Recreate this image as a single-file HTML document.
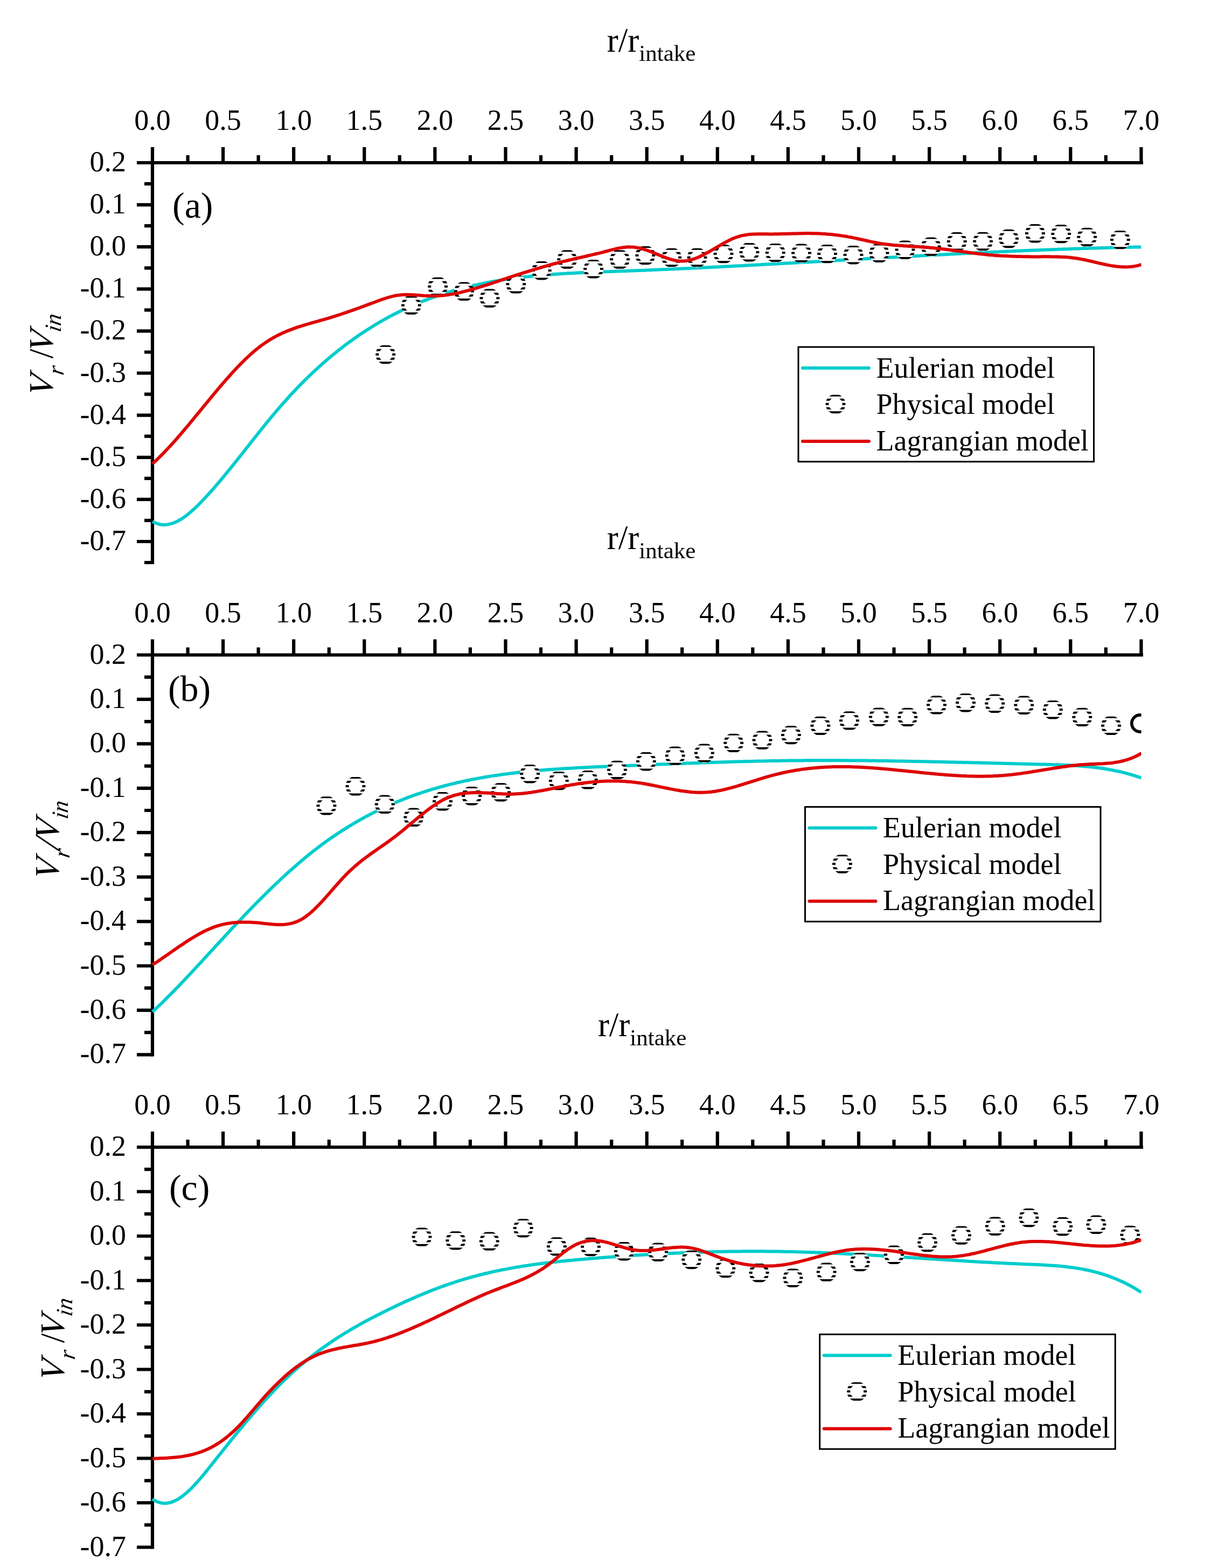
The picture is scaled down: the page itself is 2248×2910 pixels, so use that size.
<!DOCTYPE html><html><head><meta charset="utf-8"><style>html,body{margin:0;padding:0;background:#fff;}svg{display:block;}</style></head><body>
<svg width="2248" height="2910" viewBox="0 0 2248 2910" font-family="'Liberation Serif','Times New Roman',serif">
<rect width="2248" height="2910" fill="#fff"/>
<defs><clipPath id="st" clipPathUnits="userSpaceOnUse"><rect x="-22" y="-17.2" width="44" height="3.0"/><rect x="-22" y="-10.2" width="44" height="4.0"/><rect x="-22" y="-2.2" width="44" height="4.0"/><rect x="-22" y="5.8" width="44" height="4.0"/><rect x="-22" y="13.2" width="44" height="4.0"/></clipPath><g id="mk"><circle r="18.5" fill="#fff"/><circle r="15.5" fill="none" stroke="#000" stroke-width="6" clip-path="url(#st)"/></g><clipPath id="plotclip"><rect x="0" y="0" width="2118.5" height="2910"/></clipPath></defs>
<g><path d="M280,302.0 H2122 M283,299.0 V1047.0" stroke="#000" stroke-width="6.2" fill="none"/>
<path d="M283.0,302.0 V273.0 M414.1,302.0 V273.0 M545.2,302.0 V273.0 M676.3,302.0 V273.0 M807.4,302.0 V273.0 M938.5,302.0 V273.0 M1069.6,302.0 V273.0 M1200.7,302.0 V273.0 M1331.8,302.0 V273.0 M1462.9,302.0 V273.0 M1594.0,302.0 V273.0 M1725.1,302.0 V273.0 M1856.2,302.0 V273.0 M1987.3,302.0 V273.0 M2118.4,302.0 V273.0 M348.6,302.0 V288.0 M479.6,302.0 V288.0 M610.8,302.0 V288.0 M741.8,302.0 V288.0 M872.9,302.0 V288.0 M1004.0,302.0 V288.0 M1135.2,302.0 V288.0 M1266.2,302.0 V288.0 M1397.3,302.0 V288.0 M1528.5,302.0 V288.0 M1659.5,302.0 V288.0 M1790.6,302.0 V288.0 M1921.8,302.0 V288.0 M2052.8,302.0 V288.0 M283,302.0 H254 M283,341.1 H268 M283,380.1 H254 M283,419.2 H268 M283,458.2 H254 M283,497.3 H268 M283,536.3 H254 M283,575.4 H268 M283,614.4 H254 M283,653.5 H268 M283,692.5 H254 M283,731.6 H268 M283,770.7 H254 M283,809.7 H268 M283,848.8 H254 M283,887.8 H268 M283,926.9 H254 M283,965.9 H268 M283,1005.0 H254 M283,1044.0 H268" stroke="#000" stroke-width="6.2" fill="none"/>
<g font-size="54"><text x="283.0" y="241.0" text-anchor="middle">0.0</text><text x="414.1" y="241.0" text-anchor="middle">0.5</text><text x="545.2" y="241.0" text-anchor="middle">1.0</text><text x="676.3" y="241.0" text-anchor="middle">1.5</text><text x="807.4" y="241.0" text-anchor="middle">2.0</text><text x="938.5" y="241.0" text-anchor="middle">2.5</text><text x="1069.6" y="241.0" text-anchor="middle">3.0</text><text x="1200.7" y="241.0" text-anchor="middle">3.5</text><text x="1331.8" y="241.0" text-anchor="middle">4.0</text><text x="1462.9" y="241.0" text-anchor="middle">4.5</text><text x="1594.0" y="241.0" text-anchor="middle">5.0</text><text x="1725.1" y="241.0" text-anchor="middle">5.5</text><text x="1856.2" y="241.0" text-anchor="middle">6.0</text><text x="1987.3" y="241.0" text-anchor="middle">6.5</text><text x="2118.4" y="241.0" text-anchor="middle">7.0</text><text x="234" y="318.0" text-anchor="end">0.2</text><text x="234" y="396.1" text-anchor="end">0.1</text><text x="234" y="474.2" text-anchor="end">0.0</text><text x="234" y="552.3" text-anchor="end">-0.1</text><text x="234" y="630.4" text-anchor="end">-0.2</text><text x="234" y="708.5" text-anchor="end">-0.3</text><text x="234" y="786.7" text-anchor="end">-0.4</text><text x="234" y="864.8" text-anchor="end">-0.5</text><text x="234" y="942.9" text-anchor="end">-0.6</text><text x="234" y="1021.0" text-anchor="end">-0.7</text></g>
<text x="1126.8" y="96.3" font-size="63">r/r<tspan font-size="43" dy="16.8">intake</tspan></text>
<g transform="translate(97.9,728.8) rotate(-90)"><text transform="skewX(-9)" font-style="italic" font-size="64"><tspan x="-8.50" y="0">V</tspan><tspan x="34.60" y="20.1" font-size="43">r</tspan><tspan x="73.20" y="0">V</tspan><tspan x="113.65" y="15.4" font-size="43">in</tspan></text>
<text font-size="64" x="63.60" y="0">/</text></g>
<g clip-path="url(#plotclip)">
<path d="M283.0,967.8 L287.0,969.9 L291.0,971.5 L295.0,972.7 L299.0,973.5 L303.0,973.9 L307.0,973.8 L311.0,973.4 L315.0,972.7 L319.0,971.6 L323.0,970.2 L327.0,968.5 L331.0,966.5 L335.0,964.2 L339.0,961.7 L343.0,958.9 L347.0,955.9 L351.0,952.7 L355.0,949.3 L359.0,945.7 L363.0,942.0 L367.0,938.1 L371.0,934.1 L375.0,930.0 L379.0,925.8 L383.0,921.5 L387.0,917.1 L391.0,912.7 L395.0,908.2 L399.0,903.6 L403.0,898.9 L407.0,894.2 L411.0,889.5 L415.0,884.7 L419.0,879.9 L423.0,875.0 L427.0,870.1 L431.0,865.1 L435.0,860.1 L439.0,855.1 L443.0,850.1 L447.0,845.0 L451.0,840.0 L455.0,834.9 L459.0,829.9 L463.0,824.8 L467.0,819.7 L471.0,814.7 L475.0,809.6 L479.0,804.6 L483.0,799.6 L487.0,794.6 L491.0,789.6 L495.0,784.7 L499.0,779.8 L503.0,774.9 L507.0,770.1 L511.0,765.4 L515.0,760.7 L519.0,756.0 L523.0,751.4 L527.0,746.9 L531.0,742.4 L535.0,738.0 L539.0,733.6 L543.0,729.3 L547.0,725.1 L551.0,720.9 L555.0,716.7 L559.0,712.7 L563.0,708.6 L567.0,704.6 L571.0,700.7 L575.0,696.9 L579.0,693.0 L583.0,689.3 L587.0,685.6 L591.0,681.9 L595.0,678.3 L599.0,674.7 L603.0,671.2 L607.0,667.8 L611.0,664.4 L615.0,661.0 L619.0,657.7 L623.0,654.5 L627.0,651.2 L631.0,648.1 L635.0,645.0 L639.0,641.9 L643.0,638.9 L647.0,635.9 L651.0,633.0 L655.0,630.1 L659.0,627.3 L663.0,624.5 L667.0,621.7 L671.0,619.0 L675.0,616.4 L679.0,613.8 L683.0,611.2 L687.0,608.7 L691.0,606.2 L695.0,603.7 L699.0,601.3 L703.0,599.0 L707.0,596.6 L711.0,594.3 L715.0,592.1 L719.0,589.9 L723.0,587.7 L727.0,585.6 L731.0,583.5 L735.0,581.5 L739.0,579.5 L743.0,577.5 L747.0,575.6 L751.0,573.7 L755.0,571.8 L759.0,570.0 L763.0,568.2 L767.0,566.4 L771.0,564.7 L775.0,563.0 L779.0,561.4 L783.0,559.7 L787.0,558.1 L791.0,556.6 L795.0,555.1 L799.0,553.6 L803.0,552.1 L807.0,550.7 L811.0,549.3 L815.0,547.9 L819.0,546.6 L823.0,545.3 L827.0,544.0 L831.0,542.7 L835.0,541.5 L839.0,540.3 L843.0,539.2 L847.0,538.0 L851.0,536.9 L855.0,535.8 L859.0,534.8 L863.0,533.7 L867.0,532.7 L871.0,531.7 L875.0,530.8 L879.0,529.8 L883.0,528.9 L887.0,528.1 L891.0,527.2 L895.0,526.4 L899.0,525.5 L903.0,524.7 L907.0,524.0 L911.0,523.2 L915.0,522.5 L919.0,521.8 L923.0,521.1 L927.0,520.4 L931.0,519.8 L935.0,519.1 L939.0,518.5 L943.0,517.9 L947.0,517.4 L951.0,516.8 L955.0,516.3 L959.0,515.7 L963.0,515.2 L967.0,514.7 L971.0,514.3 L975.0,513.8 L979.0,513.4 L983.0,512.9 L987.0,512.5 L991.0,512.1 L995.0,511.7 L999.0,511.4 L1003.0,511.0 L1007.0,510.7 L1011.0,510.3 L1015.0,510.0 L1019.0,509.7 L1023.0,509.4 L1027.0,509.1 L1031.0,508.8 L1035.0,508.5 L1039.0,508.3 L1043.0,508.0 L1047.0,507.8 L1051.0,507.6 L1055.0,507.3 L1059.0,507.1 L1063.0,506.9 L1067.0,506.7 L1071.0,506.5 L1075.0,506.3 L1079.0,506.1 L1083.0,505.9 L1087.0,505.8 L1091.0,505.6 L1095.0,505.4 L1099.0,505.3 L1103.0,505.1 L1107.0,504.9 L1111.0,504.8 L1115.0,504.6 L1119.0,504.5 L1123.0,504.3 L1127.0,504.2 L1131.0,504.1 L1135.0,503.9 L1139.0,503.8 L1143.0,503.6 L1147.0,503.5 L1151.0,503.3 L1155.0,503.2 L1159.0,503.0 L1163.0,502.9 L1167.0,502.7 L1171.0,502.6 L1175.0,502.4 L1179.0,502.3 L1183.0,502.1 L1187.0,502.0 L1191.0,501.8 L1195.0,501.7 L1199.0,501.5 L1203.0,501.3 L1207.0,501.2 L1211.0,501.0 L1215.0,500.8 L1219.0,500.7 L1223.0,500.5 L1227.0,500.3 L1231.0,500.1 L1235.0,500.0 L1239.0,499.8 L1243.0,499.6 L1247.0,499.4 L1251.0,499.3 L1255.0,499.1 L1259.0,498.9 L1263.0,498.7 L1267.0,498.5 L1271.0,498.3 L1275.0,498.2 L1279.0,498.0 L1283.0,497.8 L1287.0,497.6 L1291.0,497.4 L1295.0,497.2 L1299.0,497.0 L1303.0,496.8 L1307.0,496.6 L1311.0,496.4 L1315.0,496.2 L1319.0,496.0 L1323.0,495.8 L1327.0,495.6 L1331.0,495.4 L1335.0,495.2 L1339.0,495.0 L1343.0,494.8 L1347.0,494.6 L1351.0,494.4 L1355.0,494.2 L1359.0,494.0 L1363.0,493.8 L1367.0,493.6 L1371.0,493.4 L1375.0,493.2 L1379.0,493.0 L1383.0,492.7 L1387.0,492.5 L1391.0,492.3 L1395.0,492.1 L1399.0,491.9 L1403.0,491.7 L1407.0,491.5 L1411.0,491.3 L1415.0,491.0 L1419.0,490.8 L1423.0,490.6 L1427.0,490.4 L1431.0,490.2 L1435.0,489.9 L1439.0,489.7 L1443.0,489.5 L1447.0,489.3 L1451.0,489.1 L1455.0,488.8 L1459.0,488.6 L1463.0,488.4 L1467.0,488.2 L1471.0,488.0 L1475.0,487.7 L1479.0,487.5 L1483.0,487.3 L1487.0,487.1 L1491.0,486.8 L1495.0,486.6 L1499.0,486.4 L1503.0,486.2 L1507.0,485.9 L1511.0,485.7 L1515.0,485.5 L1519.0,485.3 L1523.0,485.0 L1527.0,484.8 L1531.0,484.6 L1535.0,484.3 L1539.0,484.1 L1543.0,483.9 L1547.0,483.7 L1551.0,483.4 L1555.0,483.2 L1559.0,483.0 L1563.0,482.8 L1567.0,482.5 L1571.0,482.3 L1575.0,482.1 L1579.0,481.9 L1583.0,481.6 L1587.0,481.4 L1591.0,481.2 L1595.0,480.9 L1599.0,480.7 L1603.0,480.5 L1607.0,480.3 L1611.0,480.0 L1615.0,479.8 L1619.0,479.6 L1623.0,479.4 L1627.0,479.1 L1631.0,478.9 L1635.0,478.7 L1639.0,478.5 L1643.0,478.2 L1647.0,478.0 L1651.0,477.8 L1655.0,477.6 L1659.0,477.4 L1663.0,477.1 L1667.0,476.9 L1671.0,476.7 L1675.0,476.5 L1679.0,476.3 L1683.0,476.0 L1687.0,475.8 L1691.0,475.6 L1695.0,475.4 L1699.0,475.2 L1703.0,474.9 L1707.0,474.7 L1711.0,474.5 L1715.0,474.3 L1719.0,474.1 L1723.0,473.9 L1727.0,473.7 L1731.0,473.4 L1735.0,473.2 L1739.0,473.0 L1743.0,472.8 L1747.0,472.6 L1751.0,472.4 L1755.0,472.2 L1759.0,472.0 L1763.0,471.8 L1767.0,471.6 L1771.0,471.4 L1775.0,471.1 L1779.0,470.9 L1783.0,470.7 L1787.0,470.5 L1791.0,470.3 L1795.0,470.1 L1799.0,469.9 L1803.0,469.7 L1807.0,469.5 L1811.0,469.3 L1815.0,469.2 L1819.0,469.0 L1823.0,468.8 L1827.0,468.6 L1831.0,468.4 L1835.0,468.2 L1839.0,468.0 L1843.0,467.8 L1847.0,467.6 L1851.0,467.4 L1855.0,467.3 L1859.0,467.1 L1863.0,466.9 L1867.0,466.7 L1871.0,466.5 L1875.0,466.4 L1879.0,466.2 L1883.0,466.0 L1887.0,465.8 L1891.0,465.7 L1895.0,465.5 L1899.0,465.3 L1903.0,465.1 L1907.0,465.0 L1911.0,464.8 L1915.0,464.6 L1919.0,464.5 L1923.0,464.3 L1927.0,464.2 L1931.0,464.0 L1935.0,463.8 L1939.0,463.7 L1943.0,463.5 L1947.0,463.4 L1951.0,463.2 L1955.0,463.1 L1959.0,462.9 L1963.0,462.8 L1967.0,462.6 L1971.0,462.5 L1975.0,462.3 L1979.0,462.2 L1983.0,462.1 L1987.0,461.9 L1991.0,461.8 L1995.0,461.6 L1999.0,461.5 L2003.0,461.4 L2007.0,461.3 L2011.0,461.1 L2015.0,461.0 L2019.0,460.9 L2023.0,460.8 L2027.0,460.6 L2031.0,460.5 L2035.0,460.4 L2039.0,460.3 L2043.0,460.2 L2047.0,460.1 L2051.0,460.0 L2055.0,459.8 L2059.0,459.7 L2063.0,459.6 L2067.0,459.5 L2071.0,459.4 L2075.0,459.3 L2079.0,459.2 L2083.0,459.2 L2087.0,459.1 L2091.0,459.0 L2095.0,458.9 L2099.0,458.8 L2103.0,458.7 L2107.0,458.6 L2111.0,458.6 L2115.0,458.5 L2118.8,458.4" stroke="#00cccc" stroke-width="6" fill="none" stroke-linejoin="round"/>
<use href="#mk" x="715.7" y="658.0"/>
<use href="#mk" x="763.4" y="566.6"/>
<use href="#mk" x="812.6" y="531.9"/>
<use href="#mk" x="861.5" y="540.8"/>
<use href="#mk" x="908.9" y="553.5"/>
<use href="#mk" x="957.8" y="527.4"/>
<use href="#mk" x="1005.3" y="502.3"/>
<use href="#mk" x="1052.7" y="481.5"/>
<use href="#mk" x="1101.6" y="499.3"/>
<use href="#mk" x="1150.5" y="481.5"/>
<use href="#mk" x="1197.9" y="474.1"/>
<use href="#mk" x="1246.7" y="478.0"/>
<use href="#mk" x="1294.1" y="478.0"/>
<use href="#mk" x="1343.0" y="471.1"/>
<use href="#mk" x="1391.0" y="468.2"/>
<use href="#mk" x="1439.3" y="469.1"/>
<use href="#mk" x="1487.6" y="469.7"/>
<use href="#mk" x="1535.6" y="471.1"/>
<use href="#mk" x="1584.0" y="473.2"/>
<use href="#mk" x="1632.0" y="469.7"/>
<use href="#mk" x="1680.0" y="463.7"/>
<use href="#mk" x="1728.2" y="457.8"/>
<use href="#mk" x="1776.2" y="448.3"/>
<use href="#mk" x="1824.5" y="448.0"/>
<use href="#mk" x="1872.5" y="443.0"/>
<use href="#mk" x="1921.4" y="433.2"/>
<use href="#mk" x="1969.7" y="434.1"/>
<use href="#mk" x="2017.7" y="440.0"/>
<use href="#mk" x="2079.4" y="445.1"/>
<path d="M283.0,860.7 L287.0,857.1 L291.0,853.3 L295.0,849.4 L299.0,845.5 L303.0,841.4 L307.0,837.3 L311.0,833.0 L315.0,828.7 L319.0,824.4 L323.0,819.9 L327.0,815.4 L331.0,810.8 L335.0,806.2 L339.0,801.5 L343.0,796.8 L347.0,792.1 L351.0,787.3 L355.0,782.4 L359.0,777.6 L363.0,772.7 L367.0,767.9 L371.0,763.0 L375.0,758.1 L379.0,753.2 L383.0,748.3 L387.0,743.5 L391.0,738.6 L395.0,733.8 L399.0,729.0 L403.0,724.2 L407.0,719.5 L411.0,714.8 L415.0,710.1 L419.0,705.5 L423.0,701.0 L427.0,696.5 L431.0,692.1 L435.0,687.7 L439.0,683.4 L443.0,679.2 L447.0,675.1 L451.0,671.1 L455.0,667.2 L459.0,663.4 L463.0,659.7 L467.0,656.1 L471.0,652.6 L475.0,649.2 L479.0,646.0 L483.0,642.9 L487.0,639.9 L491.0,637.1 L495.0,634.4 L499.0,631.8 L503.0,629.4 L507.0,627.0 L511.0,624.8 L515.0,622.7 L519.0,620.7 L523.0,618.8 L527.0,617.0 L531.0,615.3 L535.0,613.6 L539.0,612.1 L543.0,610.6 L547.0,609.1 L551.0,607.7 L555.0,606.4 L559.0,605.1 L563.0,603.9 L567.0,602.7 L571.0,601.5 L575.0,600.3 L579.0,599.2 L583.0,598.1 L587.0,597.0 L591.0,595.8 L595.0,594.7 L599.0,593.6 L603.0,592.4 L607.0,591.3 L611.0,590.1 L615.0,588.9 L619.0,587.6 L623.0,586.4 L627.0,585.1 L631.0,583.8 L635.0,582.5 L639.0,581.1 L643.0,579.8 L647.0,578.4 L651.0,577.0 L655.0,575.6 L659.0,574.2 L663.0,572.7 L667.0,571.3 L671.0,569.8 L675.0,568.4 L679.0,566.9 L683.0,565.4 L687.0,563.9 L691.0,562.5 L695.0,561.0 L699.0,559.5 L703.0,558.0 L707.0,556.5 L711.0,555.1 L715.0,553.8 L719.0,552.5 L723.0,551.3 L727.0,550.3 L731.0,549.3 L735.0,548.5 L739.0,547.9 L743.0,547.4 L747.0,547.0 L751.0,546.9 L755.0,546.8 L759.0,546.9 L763.0,547.0 L767.0,547.2 L771.0,547.5 L775.0,547.8 L779.0,548.1 L783.0,548.4 L787.0,548.7 L791.0,548.9 L795.0,549.1 L799.0,549.3 L803.0,549.3 L807.0,549.2 L811.0,549.1 L815.0,548.9 L819.0,548.6 L823.0,548.2 L827.0,547.7 L831.0,547.2 L835.0,546.6 L839.0,545.9 L843.0,545.2 L847.0,544.4 L851.0,543.6 L855.0,542.7 L859.0,541.7 L863.0,540.7 L867.0,539.7 L871.0,538.6 L875.0,537.5 L879.0,536.3 L883.0,535.1 L887.0,533.9 L891.0,532.7 L895.0,531.4 L899.0,530.2 L903.0,528.9 L907.0,527.6 L911.0,526.3 L915.0,524.9 L919.0,523.6 L923.0,522.3 L927.0,521.0 L931.0,519.6 L935.0,518.3 L939.0,517.0 L943.0,515.7 L947.0,514.4 L951.0,513.0 L955.0,511.7 L959.0,510.4 L963.0,509.1 L967.0,507.9 L971.0,506.6 L975.0,505.3 L979.0,504.1 L983.0,502.8 L987.0,501.6 L991.0,500.4 L995.0,499.1 L999.0,498.0 L1003.0,496.8 L1007.0,495.6 L1011.0,494.5 L1015.0,493.3 L1019.0,492.2 L1023.0,491.1 L1027.0,490.0 L1031.0,489.0 L1035.0,487.9 L1039.0,486.9 L1043.0,485.9 L1047.0,484.9 L1051.0,484.0 L1055.0,483.0 L1059.0,482.1 L1063.0,481.2 L1067.0,480.2 L1071.0,479.3 L1075.0,478.4 L1079.0,477.5 L1083.0,476.6 L1087.0,475.7 L1091.0,474.8 L1095.0,473.9 L1099.0,472.9 L1103.0,472.0 L1107.0,471.0 L1111.0,470.1 L1115.0,469.1 L1119.0,468.1 L1123.0,467.0 L1127.0,466.0 L1131.0,464.9 L1135.0,463.8 L1139.0,462.8 L1143.0,461.8 L1147.0,460.9 L1151.0,460.1 L1155.0,459.4 L1159.0,458.9 L1163.0,458.5 L1167.0,458.3 L1171.0,458.4 L1175.0,458.6 L1179.0,459.1 L1183.0,459.7 L1187.0,460.5 L1191.0,461.5 L1195.0,462.6 L1199.0,463.9 L1203.0,465.2 L1207.0,466.7 L1211.0,468.2 L1215.0,469.8 L1219.0,471.5 L1223.0,473.1 L1227.0,474.8 L1231.0,476.4 L1235.0,477.9 L1239.0,479.4 L1243.0,480.7 L1247.0,481.9 L1251.0,482.9 L1255.0,483.7 L1259.0,484.3 L1263.0,484.6 L1267.0,484.6 L1271.0,484.4 L1275.0,483.9 L1279.0,483.1 L1283.0,482.1 L1287.0,480.9 L1291.0,479.5 L1295.0,478.0 L1299.0,476.2 L1303.0,474.3 L1307.0,472.3 L1311.0,470.2 L1315.0,468.0 L1319.0,465.7 L1323.0,463.3 L1327.0,460.9 L1331.0,458.6 L1335.0,456.2 L1339.0,453.9 L1343.0,451.6 L1347.0,449.4 L1351.0,447.3 L1355.0,445.3 L1359.0,443.4 L1363.0,441.8 L1367.0,440.3 L1371.0,439.0 L1375.0,437.9 L1379.0,436.9 L1383.0,436.2 L1387.0,435.6 L1391.0,435.1 L1395.0,434.8 L1399.0,434.5 L1403.0,434.4 L1407.0,434.3 L1411.0,434.3 L1415.0,434.3 L1419.0,434.3 L1423.0,434.3 L1427.0,434.4 L1431.0,434.4 L1435.0,434.4 L1439.0,434.3 L1443.0,434.3 L1447.0,434.2 L1451.0,434.1 L1455.0,434.0 L1459.0,433.9 L1463.0,433.8 L1467.0,433.7 L1471.0,433.6 L1475.0,433.5 L1479.0,433.4 L1483.0,433.3 L1487.0,433.2 L1491.0,433.2 L1495.0,433.1 L1499.0,433.1 L1503.0,433.1 L1507.0,433.2 L1511.0,433.2 L1515.0,433.3 L1519.0,433.5 L1523.0,433.6 L1527.0,433.9 L1531.0,434.1 L1535.0,434.4 L1539.0,434.7 L1543.0,435.1 L1547.0,435.5 L1551.0,436.0 L1555.0,436.4 L1559.0,437.0 L1563.0,437.6 L1567.0,438.2 L1571.0,438.8 L1575.0,439.6 L1579.0,440.3 L1583.0,441.1 L1587.0,441.9 L1591.0,442.8 L1595.0,443.7 L1599.0,444.5 L1603.0,445.4 L1607.0,446.3 L1611.0,447.2 L1615.0,448.1 L1619.0,448.9 L1623.0,449.7 L1627.0,450.5 L1631.0,451.2 L1635.0,451.9 L1639.0,452.5 L1643.0,453.1 L1647.0,453.6 L1651.0,454.0 L1655.0,454.5 L1659.0,454.9 L1663.0,455.2 L1667.0,455.5 L1671.0,455.8 L1675.0,456.1 L1679.0,456.4 L1683.0,456.6 L1687.0,456.9 L1691.0,457.1 L1695.0,457.4 L1699.0,457.6 L1703.0,457.8 L1707.0,458.1 L1711.0,458.4 L1715.0,458.7 L1719.0,459.0 L1723.0,459.3 L1727.0,459.7 L1731.0,460.1 L1735.0,460.5 L1739.0,460.9 L1743.0,461.4 L1747.0,461.8 L1751.0,462.3 L1755.0,462.8 L1759.0,463.3 L1763.0,463.8 L1767.0,464.4 L1771.0,464.9 L1775.0,465.4 L1779.0,466.0 L1783.0,466.5 L1787.0,467.1 L1791.0,467.6 L1795.0,468.1 L1799.0,468.7 L1803.0,469.2 L1807.0,469.7 L1811.0,470.2 L1815.0,470.7 L1819.0,471.2 L1823.0,471.6 L1827.0,472.1 L1831.0,472.5 L1835.0,472.9 L1839.0,473.2 L1843.0,473.6 L1847.0,473.9 L1851.0,474.2 L1855.0,474.5 L1859.0,474.7 L1863.0,474.9 L1867.0,475.1 L1871.0,475.3 L1875.0,475.5 L1879.0,475.7 L1883.0,475.8 L1887.0,475.9 L1891.0,476.0 L1895.0,476.1 L1899.0,476.2 L1903.0,476.2 L1907.0,476.3 L1911.0,476.3 L1915.0,476.4 L1919.0,476.4 L1923.0,476.4 L1927.0,476.4 L1931.0,476.4 L1935.0,476.3 L1939.0,476.3 L1943.0,476.3 L1947.0,476.3 L1951.0,476.4 L1955.0,476.4 L1959.0,476.5 L1963.0,476.6 L1967.0,476.7 L1971.0,476.9 L1975.0,477.1 L1979.0,477.3 L1983.0,477.6 L1987.0,478.0 L1991.0,478.4 L1995.0,478.9 L1999.0,479.5 L2003.0,480.2 L2007.0,480.9 L2011.0,481.7 L2015.0,482.5 L2019.0,483.4 L2023.0,484.3 L2027.0,485.2 L2031.0,486.2 L2035.0,487.1 L2039.0,488.1 L2043.0,489.0 L2047.0,489.9 L2051.0,490.8 L2055.0,491.6 L2059.0,492.4 L2063.0,493.1 L2067.0,493.7 L2071.0,494.3 L2075.0,494.7 L2079.0,495.1 L2083.0,495.3 L2087.0,495.5 L2091.0,495.5 L2095.0,495.3 L2099.0,495.0 L2103.0,494.6 L2107.0,493.9 L2111.0,493.1 L2115.0,492.1 L2118.8,491.0" stroke="#de0606" stroke-width="6" fill="none" stroke-linejoin="round"/>
</g>
<text x="320.0" y="403.7" font-size="68">(a)</text>
<rect x="1482.0" y="644.0" width="548.5" height="212.8" fill="#fff" stroke="#000" stroke-width="3"/>
<path d="M1490.0,683.0 H1613.0" stroke="#00cccc" stroke-width="6" stroke-linecap="round"/>
<path d="M1490.0,819.0 H1613.0" stroke="#de0606" stroke-width="6" stroke-linecap="round"/>
<use href="#mk" x="1551.0" y="750.0"/>
<g font-size="54"><text x="1626.5" y="700.8">Eulerian model</text><text x="1626.5" y="768.1">Physical model</text><text x="1626.5" y="835.5">Lagrangian model</text></g></g>
<g><path d="M280,1215.5 H2122 M283,1212.5 V1960.4" stroke="#000" stroke-width="6.2" fill="none"/>
<path d="M283.0,1215.5 V1186.5 M414.1,1215.5 V1186.5 M545.2,1215.5 V1186.5 M676.3,1215.5 V1186.5 M807.4,1215.5 V1186.5 M938.5,1215.5 V1186.5 M1069.6,1215.5 V1186.5 M1200.7,1215.5 V1186.5 M1331.8,1215.5 V1186.5 M1462.9,1215.5 V1186.5 M1594.0,1215.5 V1186.5 M1725.1,1215.5 V1186.5 M1856.2,1215.5 V1186.5 M1987.3,1215.5 V1186.5 M2118.4,1215.5 V1186.5 M348.6,1215.5 V1201.5 M479.6,1215.5 V1201.5 M610.8,1215.5 V1201.5 M741.8,1215.5 V1201.5 M872.9,1215.5 V1201.5 M1004.0,1215.5 V1201.5 M1135.2,1215.5 V1201.5 M1266.2,1215.5 V1201.5 M1397.3,1215.5 V1201.5 M1528.5,1215.5 V1201.5 M1659.5,1215.5 V1201.5 M1790.6,1215.5 V1201.5 M1921.8,1215.5 V1201.5 M2052.8,1215.5 V1201.5 M283,1215.5 H254 M283,1256.7 H268 M283,1297.9 H254 M283,1339.1 H268 M283,1380.4 H254 M283,1421.6 H268 M283,1462.8 H254 M283,1504.0 H268 M283,1545.2 H254 M283,1586.4 H268 M283,1627.7 H254 M283,1668.9 H268 M283,1710.1 H254 M283,1751.3 H268 M283,1792.5 H254 M283,1833.7 H268 M283,1874.9 H254 M283,1916.2 H268 M283,1957.4 H254" stroke="#000" stroke-width="6.2" fill="none"/>
<g font-size="54"><text x="283.0" y="1154.5" text-anchor="middle">0.0</text><text x="414.1" y="1154.5" text-anchor="middle">0.5</text><text x="545.2" y="1154.5" text-anchor="middle">1.0</text><text x="676.3" y="1154.5" text-anchor="middle">1.5</text><text x="807.4" y="1154.5" text-anchor="middle">2.0</text><text x="938.5" y="1154.5" text-anchor="middle">2.5</text><text x="1069.6" y="1154.5" text-anchor="middle">3.0</text><text x="1200.7" y="1154.5" text-anchor="middle">3.5</text><text x="1331.8" y="1154.5" text-anchor="middle">4.0</text><text x="1462.9" y="1154.5" text-anchor="middle">4.5</text><text x="1594.0" y="1154.5" text-anchor="middle">5.0</text><text x="1725.1" y="1154.5" text-anchor="middle">5.5</text><text x="1856.2" y="1154.5" text-anchor="middle">6.0</text><text x="1987.3" y="1154.5" text-anchor="middle">6.5</text><text x="2118.4" y="1154.5" text-anchor="middle">7.0</text><text x="234" y="1231.5" text-anchor="end">0.2</text><text x="234" y="1313.9" text-anchor="end">0.1</text><text x="234" y="1396.4" text-anchor="end">0.0</text><text x="234" y="1478.8" text-anchor="end">-0.1</text><text x="234" y="1561.2" text-anchor="end">-0.2</text><text x="234" y="1643.7" text-anchor="end">-0.3</text><text x="234" y="1726.1" text-anchor="end">-0.4</text><text x="234" y="1808.5" text-anchor="end">-0.5</text><text x="234" y="1890.9" text-anchor="end">-0.6</text><text x="234" y="1973.4" text-anchor="end">-0.7</text></g>
<text x="1126.8" y="1019.2" font-size="63">r/r<tspan font-size="43" dy="16.8">intake</tspan></text>
<g transform="translate(108.7,1626.0) rotate(-90)"><text transform="skewX(-9)" font-style="italic" font-size="64"><tspan x="-8.50" y="0">V</tspan><tspan x="35.75" y="20.0" font-size="43">r</tspan><tspan x="64.40" y="0">V</tspan><tspan x="107.35" y="16.9" font-size="43">in</tspan></text>
<text transform="skewX(-9)" font-style="italic" font-size="64" x="48.65" y="0">/</text></g>
<g clip-path="url(#plotclip)">
<path d="M283.0,1877.9 L287.0,1874.2 L291.0,1870.4 L295.0,1866.6 L299.0,1862.8 L303.0,1858.9 L307.0,1854.9 L311.0,1850.9 L315.0,1846.9 L319.0,1842.9 L323.0,1838.8 L327.0,1834.7 L331.0,1830.6 L335.0,1826.4 L339.0,1822.2 L343.0,1818.0 L347.0,1813.8 L351.0,1809.5 L355.0,1805.2 L359.0,1801.0 L363.0,1796.7 L367.0,1792.3 L371.0,1788.0 L375.0,1783.7 L379.0,1779.3 L383.0,1775.0 L387.0,1770.6 L391.0,1766.3 L395.0,1761.9 L399.0,1757.6 L403.0,1753.2 L407.0,1748.9 L411.0,1744.5 L415.0,1740.2 L419.0,1735.8 L423.0,1731.5 L427.0,1727.2 L431.0,1722.9 L435.0,1718.7 L439.0,1714.4 L443.0,1710.2 L447.0,1706.0 L451.0,1701.7 L455.0,1697.6 L459.0,1693.4 L463.0,1689.2 L467.0,1685.1 L471.0,1681.0 L475.0,1676.9 L479.0,1672.9 L483.0,1668.9 L487.0,1664.8 L491.0,1660.9 L495.0,1656.9 L499.0,1653.0 L503.0,1649.1 L507.0,1645.2 L511.0,1641.4 L515.0,1637.6 L519.0,1633.8 L523.0,1630.1 L527.0,1626.4 L531.0,1622.7 L535.0,1619.1 L539.0,1615.5 L543.0,1611.9 L547.0,1608.4 L551.0,1604.9 L555.0,1601.5 L559.0,1598.1 L563.0,1594.7 L567.0,1591.4 L571.0,1588.1 L575.0,1584.9 L579.0,1581.7 L583.0,1578.6 L587.0,1575.5 L591.0,1572.4 L595.0,1569.4 L599.0,1566.4 L603.0,1563.5 L607.0,1560.6 L611.0,1557.8 L615.0,1555.0 L619.0,1552.2 L623.0,1549.5 L627.0,1546.8 L631.0,1544.2 L635.0,1541.6 L639.0,1539.1 L643.0,1536.6 L647.0,1534.1 L651.0,1531.7 L655.0,1529.3 L659.0,1526.9 L663.0,1524.6 L667.0,1522.3 L671.0,1520.1 L675.0,1517.9 L679.0,1515.7 L683.0,1513.6 L687.0,1511.5 L691.0,1509.4 L695.0,1507.4 L699.0,1505.4 L703.0,1503.4 L707.0,1501.5 L711.0,1499.6 L715.0,1497.8 L719.0,1495.9 L723.0,1494.1 L727.0,1492.4 L731.0,1490.7 L735.0,1489.0 L739.0,1487.3 L743.0,1485.7 L747.0,1484.1 L751.0,1482.5 L755.0,1480.9 L759.0,1479.4 L763.0,1478.0 L767.0,1476.5 L771.0,1475.1 L775.0,1473.7 L779.0,1472.3 L783.0,1471.0 L787.0,1469.7 L791.0,1468.4 L795.0,1467.1 L799.0,1465.9 L803.0,1464.7 L807.0,1463.5 L811.0,1462.3 L815.0,1461.2 L819.0,1460.1 L823.0,1459.0 L827.0,1457.9 L831.0,1456.9 L835.0,1455.9 L839.0,1454.9 L843.0,1453.9 L847.0,1453.0 L851.0,1452.0 L855.0,1451.1 L859.0,1450.3 L863.0,1449.4 L867.0,1448.5 L871.0,1447.7 L875.0,1446.9 L879.0,1446.1 L883.0,1445.4 L887.0,1444.6 L891.0,1443.9 L895.0,1443.2 L899.0,1442.5 L903.0,1441.8 L907.0,1441.1 L911.0,1440.5 L915.0,1439.9 L919.0,1439.3 L923.0,1438.7 L927.0,1438.1 L931.0,1437.5 L935.0,1437.0 L939.0,1436.4 L943.0,1435.9 L947.0,1435.4 L951.0,1434.9 L955.0,1434.4 L959.0,1434.0 L963.0,1433.5 L967.0,1433.1 L971.0,1432.6 L975.0,1432.2 L979.0,1431.8 L983.0,1431.4 L987.0,1431.0 L991.0,1430.6 L995.0,1430.3 L999.0,1429.9 L1003.0,1429.6 L1007.0,1429.2 L1011.0,1428.9 L1015.0,1428.6 L1019.0,1428.3 L1023.0,1428.0 L1027.0,1427.7 L1031.0,1427.4 L1035.0,1427.2 L1039.0,1426.9 L1043.0,1426.6 L1047.0,1426.4 L1051.0,1426.1 L1055.0,1425.9 L1059.0,1425.7 L1063.0,1425.4 L1067.0,1425.2 L1071.0,1425.0 L1075.0,1424.8 L1079.0,1424.6 L1083.0,1424.4 L1087.0,1424.2 L1091.0,1424.0 L1095.0,1423.8 L1099.0,1423.6 L1103.0,1423.5 L1107.0,1423.3 L1111.0,1423.1 L1115.0,1423.0 L1119.0,1422.8 L1123.0,1422.6 L1127.0,1422.5 L1131.0,1422.3 L1135.0,1422.1 L1139.0,1422.0 L1143.0,1421.8 L1147.0,1421.7 L1151.0,1421.5 L1155.0,1421.3 L1159.0,1421.2 L1163.0,1421.0 L1167.0,1420.9 L1171.0,1420.7 L1175.0,1420.5 L1179.0,1420.4 L1183.0,1420.2 L1187.0,1420.1 L1191.0,1419.9 L1195.0,1419.7 L1199.0,1419.6 L1203.0,1419.4 L1207.0,1419.3 L1211.0,1419.1 L1215.0,1418.9 L1219.0,1418.8 L1223.0,1418.6 L1227.0,1418.5 L1231.0,1418.3 L1235.0,1418.2 L1239.0,1418.0 L1243.0,1417.9 L1247.0,1417.7 L1251.0,1417.5 L1255.0,1417.4 L1259.0,1417.2 L1263.0,1417.1 L1267.0,1416.9 L1271.0,1416.8 L1275.0,1416.6 L1279.0,1416.5 L1283.0,1416.3 L1287.0,1416.2 L1291.0,1416.1 L1295.0,1415.9 L1299.0,1415.8 L1303.0,1415.6 L1307.0,1415.5 L1311.0,1415.4 L1315.0,1415.2 L1319.0,1415.1 L1323.0,1415.0 L1327.0,1414.8 L1331.0,1414.7 L1335.0,1414.6 L1339.0,1414.4 L1343.0,1414.3 L1347.0,1414.2 L1351.0,1414.1 L1355.0,1414.0 L1359.0,1413.8 L1363.0,1413.7 L1367.0,1413.6 L1371.0,1413.5 L1375.0,1413.4 L1379.0,1413.3 L1383.0,1413.2 L1387.0,1413.1 L1391.0,1413.0 L1395.0,1412.9 L1399.0,1412.8 L1403.0,1412.7 L1407.0,1412.6 L1411.0,1412.5 L1415.0,1412.4 L1419.0,1412.4 L1423.0,1412.3 L1427.0,1412.2 L1431.0,1412.1 L1435.0,1412.1 L1439.0,1412.0 L1443.0,1411.9 L1447.0,1411.9 L1451.0,1411.8 L1455.0,1411.7 L1459.0,1411.7 L1463.0,1411.6 L1467.0,1411.6 L1471.0,1411.6 L1475.0,1411.5 L1479.0,1411.5 L1483.0,1411.4 L1487.0,1411.4 L1491.0,1411.4 L1495.0,1411.3 L1499.0,1411.3 L1503.0,1411.3 L1507.0,1411.3 L1511.0,1411.3 L1515.0,1411.3 L1519.0,1411.2 L1523.0,1411.2 L1527.0,1411.2 L1531.0,1411.2 L1535.0,1411.2 L1539.0,1411.2 L1543.0,1411.2 L1547.0,1411.2 L1551.0,1411.3 L1555.0,1411.3 L1559.0,1411.3 L1563.0,1411.3 L1567.0,1411.3 L1571.0,1411.3 L1575.0,1411.4 L1579.0,1411.4 L1583.0,1411.4 L1587.0,1411.5 L1591.0,1411.5 L1595.0,1411.5 L1599.0,1411.6 L1603.0,1411.6 L1607.0,1411.6 L1611.0,1411.7 L1615.0,1411.7 L1619.0,1411.8 L1623.0,1411.8 L1627.0,1411.9 L1631.0,1411.9 L1635.0,1412.0 L1639.0,1412.0 L1643.0,1412.1 L1647.0,1412.1 L1651.0,1412.2 L1655.0,1412.3 L1659.0,1412.3 L1663.0,1412.4 L1667.0,1412.4 L1671.0,1412.5 L1675.0,1412.6 L1679.0,1412.7 L1683.0,1412.7 L1687.0,1412.8 L1691.0,1412.9 L1695.0,1412.9 L1699.0,1413.0 L1703.0,1413.1 L1707.0,1413.2 L1711.0,1413.3 L1715.0,1413.3 L1719.0,1413.4 L1723.0,1413.5 L1727.0,1413.6 L1731.0,1413.7 L1735.0,1413.8 L1739.0,1413.8 L1743.0,1413.9 L1747.0,1414.0 L1751.0,1414.1 L1755.0,1414.2 L1759.0,1414.3 L1763.0,1414.4 L1767.0,1414.5 L1771.0,1414.6 L1775.0,1414.7 L1779.0,1414.8 L1783.0,1414.8 L1787.0,1414.9 L1791.0,1415.0 L1795.0,1415.1 L1799.0,1415.2 L1803.0,1415.3 L1807.0,1415.4 L1811.0,1415.5 L1815.0,1415.6 L1819.0,1415.7 L1823.0,1415.8 L1827.0,1415.9 L1831.0,1416.0 L1835.0,1416.1 L1839.0,1416.2 L1843.0,1416.3 L1847.0,1416.4 L1851.0,1416.5 L1855.0,1416.6 L1859.0,1416.7 L1863.0,1416.8 L1867.0,1416.9 L1871.0,1417.0 L1875.0,1417.1 L1879.0,1417.2 L1883.0,1417.3 L1887.0,1417.4 L1891.0,1417.5 L1895.0,1417.6 L1899.0,1417.7 L1903.0,1417.8 L1907.0,1417.9 L1911.0,1418.0 L1915.0,1418.1 L1919.0,1418.2 L1923.0,1418.3 L1927.0,1418.4 L1931.0,1418.4 L1935.0,1418.5 L1939.0,1418.6 L1943.0,1418.7 L1947.0,1418.8 L1951.0,1418.9 L1955.0,1419.1 L1959.0,1419.2 L1963.0,1419.3 L1967.0,1419.5 L1971.0,1419.6 L1975.0,1419.8 L1979.0,1419.9 L1983.0,1420.1 L1987.0,1420.3 L1991.0,1420.6 L1995.0,1420.8 L1999.0,1421.1 L2003.0,1421.4 L2007.0,1421.7 L2011.0,1422.0 L2015.0,1422.4 L2019.0,1422.7 L2023.0,1423.1 L2027.0,1423.6 L2031.0,1424.0 L2035.0,1424.5 L2039.0,1425.0 L2043.0,1425.6 L2047.0,1426.2 L2051.0,1426.8 L2055.0,1427.5 L2059.0,1428.2 L2063.0,1428.9 L2067.0,1429.7 L2071.0,1430.5 L2075.0,1431.3 L2079.0,1432.2 L2083.0,1433.2 L2087.0,1434.2 L2091.0,1435.2 L2095.0,1436.3 L2099.0,1437.4 L2103.0,1438.6 L2107.0,1439.8 L2111.0,1441.1 L2115.0,1442.4 L2118.8,1443.8" stroke="#00cccc" stroke-width="6" fill="none" stroke-linejoin="round"/>
<use href="#mk" x="606.0" y="1495.4"/>
<use href="#mk" x="660.0" y="1459.3"/>
<use href="#mk" x="714.2" y="1492.8"/>
<use href="#mk" x="767.8" y="1516.8"/>
<use href="#mk" x="821.5" y="1487.3"/>
<use href="#mk" x="875.7" y="1477.2"/>
<use href="#mk" x="929.7" y="1470.4"/>
<use href="#mk" x="983.6" y="1436.3"/>
<use href="#mk" x="1037.3" y="1449.1"/>
<use href="#mk" x="1091.2" y="1447.3"/>
<use href="#mk" x="1145.5" y="1428.9"/>
<use href="#mk" x="1199.4" y="1413.2"/>
<use href="#mk" x="1253.2" y="1402.6"/>
<use href="#mk" x="1307.4" y="1397.6"/>
<use href="#mk" x="1361.7" y="1378.9"/>
<use href="#mk" x="1415.0" y="1373.6"/>
<use href="#mk" x="1468.4" y="1364.1"/>
<use href="#mk" x="1522.9" y="1346.9"/>
<use href="#mk" x="1576.5" y="1337.4"/>
<use href="#mk" x="1631.4" y="1330.6"/>
<use href="#mk" x="1684.7" y="1330.9"/>
<use href="#mk" x="1738.5" y="1308.4"/>
<use href="#mk" x="1792.5" y="1304.2"/>
<use href="#mk" x="1846.7" y="1305.7"/>
<use href="#mk" x="1900.7" y="1308.7"/>
<use href="#mk" x="1954.3" y="1317.3"/>
<use href="#mk" x="2008.8" y="1330.9"/>
<use href="#mk" x="2062.5" y="1346.9"/>
<path d="M283.0,1790.6 L287.0,1788.0 L291.0,1785.4 L295.0,1782.7 L299.0,1780.0 L303.0,1777.2 L307.0,1774.5 L311.0,1771.7 L315.0,1768.9 L319.0,1766.1 L323.0,1763.3 L327.0,1760.6 L331.0,1757.8 L335.0,1755.1 L339.0,1752.4 L343.0,1749.7 L347.0,1747.1 L351.0,1744.5 L355.0,1742.0 L359.0,1739.6 L363.0,1737.2 L367.0,1734.9 L371.0,1732.7 L375.0,1730.5 L379.0,1728.5 L383.0,1726.5 L387.0,1724.7 L391.0,1723.0 L395.0,1721.4 L399.0,1719.9 L403.0,1718.6 L407.0,1717.4 L411.0,1716.3 L415.0,1715.4 L419.0,1714.5 L423.0,1713.8 L427.0,1713.2 L431.0,1712.6 L435.0,1712.2 L439.0,1711.9 L443.0,1711.6 L447.0,1711.5 L451.0,1711.4 L455.0,1711.4 L459.0,1711.4 L463.0,1711.5 L467.0,1711.7 L471.0,1712.0 L475.0,1712.3 L479.0,1712.6 L483.0,1713.0 L487.0,1713.4 L491.0,1713.9 L495.0,1714.3 L499.0,1714.7 L503.0,1715.1 L507.0,1715.5 L511.0,1715.7 L515.0,1715.9 L519.0,1716.0 L523.0,1715.9 L527.0,1715.7 L531.0,1715.4 L535.0,1714.8 L539.0,1714.1 L543.0,1713.1 L547.0,1711.9 L551.0,1710.4 L555.0,1708.6 L559.0,1706.6 L563.0,1704.2 L567.0,1701.5 L571.0,1698.5 L575.0,1695.3 L579.0,1691.8 L583.0,1688.1 L587.0,1684.2 L591.0,1680.2 L595.0,1676.0 L599.0,1671.7 L603.0,1667.2 L607.0,1662.7 L611.0,1658.2 L615.0,1653.6 L619.0,1649.0 L623.0,1644.4 L627.0,1639.9 L631.0,1635.4 L635.0,1631.1 L639.0,1626.8 L643.0,1622.7 L647.0,1618.7 L651.0,1614.9 L655.0,1611.2 L659.0,1607.6 L663.0,1604.2 L667.0,1600.9 L671.0,1597.7 L675.0,1594.6 L679.0,1591.5 L683.0,1588.6 L687.0,1585.7 L691.0,1582.8 L695.0,1580.0 L699.0,1577.2 L703.0,1574.4 L707.0,1571.6 L711.0,1568.8 L715.0,1566.0 L719.0,1563.2 L723.0,1560.3 L727.0,1557.4 L731.0,1554.4 L735.0,1551.4 L739.0,1548.2 L743.0,1545.0 L747.0,1541.8 L751.0,1538.5 L755.0,1535.1 L759.0,1531.8 L763.0,1528.4 L767.0,1525.0 L771.0,1521.7 L775.0,1518.4 L779.0,1515.1 L783.0,1511.8 L787.0,1508.6 L791.0,1505.5 L795.0,1502.4 L799.0,1499.5 L803.0,1496.6 L807.0,1493.9 L811.0,1491.3 L815.0,1488.8 L819.0,1486.5 L823.0,1484.3 L827.0,1482.3 L831.0,1480.5 L835.0,1478.9 L839.0,1477.5 L843.0,1476.2 L847.0,1475.1 L851.0,1474.2 L855.0,1473.3 L859.0,1472.7 L863.0,1472.1 L867.0,1471.7 L871.0,1471.4 L875.0,1471.2 L879.0,1471.0 L883.0,1471.0 L887.0,1471.0 L891.0,1471.1 L895.0,1471.2 L899.0,1471.4 L903.0,1471.6 L907.0,1471.8 L911.0,1472.1 L915.0,1472.4 L919.0,1472.6 L923.0,1472.9 L927.0,1473.1 L931.0,1473.3 L935.0,1473.5 L939.0,1473.6 L943.0,1473.7 L947.0,1473.7 L951.0,1473.7 L955.0,1473.5 L959.0,1473.3 L963.0,1473.1 L967.0,1472.7 L971.0,1472.4 L975.0,1471.9 L979.0,1471.5 L983.0,1470.9 L987.0,1470.4 L991.0,1469.8 L995.0,1469.1 L999.0,1468.4 L1003.0,1467.7 L1007.0,1467.0 L1011.0,1466.3 L1015.0,1465.5 L1019.0,1464.7 L1023.0,1463.9 L1027.0,1463.1 L1031.0,1462.3 L1035.0,1461.5 L1039.0,1460.7 L1043.0,1460.0 L1047.0,1459.2 L1051.0,1458.4 L1055.0,1457.7 L1059.0,1456.9 L1063.0,1456.2 L1067.0,1455.6 L1071.0,1454.9 L1075.0,1454.3 L1079.0,1453.7 L1083.0,1453.2 L1087.0,1452.7 L1091.0,1452.2 L1095.0,1451.8 L1099.0,1451.4 L1103.0,1451.0 L1107.0,1450.7 L1111.0,1450.4 L1115.0,1450.1 L1119.0,1449.9 L1123.0,1449.7 L1127.0,1449.6 L1131.0,1449.5 L1135.0,1449.5 L1139.0,1449.5 L1143.0,1449.5 L1147.0,1449.6 L1151.0,1449.7 L1155.0,1449.9 L1159.0,1450.1 L1163.0,1450.4 L1167.0,1450.7 L1171.0,1451.1 L1175.0,1451.5 L1179.0,1451.9 L1183.0,1452.5 L1187.0,1453.0 L1191.0,1453.6 L1195.0,1454.3 L1199.0,1455.0 L1203.0,1455.7 L1207.0,1456.5 L1211.0,1457.3 L1215.0,1458.1 L1219.0,1458.9 L1223.0,1459.7 L1227.0,1460.6 L1231.0,1461.4 L1235.0,1462.2 L1239.0,1463.0 L1243.0,1463.9 L1247.0,1464.6 L1251.0,1465.4 L1255.0,1466.1 L1259.0,1466.8 L1263.0,1467.5 L1267.0,1468.1 L1271.0,1468.6 L1275.0,1469.1 L1279.0,1469.6 L1283.0,1470.0 L1287.0,1470.3 L1291.0,1470.5 L1295.0,1470.7 L1299.0,1470.8 L1303.0,1470.7 L1307.0,1470.6 L1311.0,1470.4 L1315.0,1470.1 L1319.0,1469.7 L1323.0,1469.2 L1327.0,1468.7 L1331.0,1468.0 L1335.0,1467.3 L1339.0,1466.5 L1343.0,1465.6 L1347.0,1464.7 L1351.0,1463.7 L1355.0,1462.7 L1359.0,1461.6 L1363.0,1460.5 L1367.0,1459.3 L1371.0,1458.2 L1375.0,1456.9 L1379.0,1455.7 L1383.0,1454.4 L1387.0,1453.2 L1391.0,1451.9 L1395.0,1450.6 L1399.0,1449.3 L1403.0,1448.1 L1407.0,1446.8 L1411.0,1445.5 L1415.0,1444.3 L1419.0,1443.1 L1423.0,1441.9 L1427.0,1440.8 L1431.0,1439.7 L1435.0,1438.6 L1439.0,1437.6 L1443.0,1436.6 L1447.0,1435.6 L1451.0,1434.7 L1455.0,1433.8 L1459.0,1433.0 L1463.0,1432.2 L1467.0,1431.4 L1471.0,1430.7 L1475.0,1430.0 L1479.0,1429.3 L1483.0,1428.7 L1487.0,1428.1 L1491.0,1427.6 L1495.0,1427.0 L1499.0,1426.5 L1503.0,1426.1 L1507.0,1425.7 L1511.0,1425.3 L1515.0,1424.9 L1519.0,1424.6 L1523.0,1424.3 L1527.0,1424.0 L1531.0,1423.8 L1535.0,1423.6 L1539.0,1423.4 L1543.0,1423.2 L1547.0,1423.1 L1551.0,1423.0 L1555.0,1423.0 L1559.0,1422.9 L1563.0,1422.9 L1567.0,1422.9 L1571.0,1423.0 L1575.0,1423.1 L1579.0,1423.1 L1583.0,1423.3 L1587.0,1423.4 L1591.0,1423.5 L1595.0,1423.7 L1599.0,1423.9 L1603.0,1424.1 L1607.0,1424.4 L1611.0,1424.6 L1615.0,1424.9 L1619.0,1425.1 L1623.0,1425.4 L1627.0,1425.7 L1631.0,1426.1 L1635.0,1426.4 L1639.0,1426.7 L1643.0,1427.1 L1647.0,1427.4 L1651.0,1427.8 L1655.0,1428.2 L1659.0,1428.6 L1663.0,1429.0 L1667.0,1429.4 L1671.0,1429.8 L1675.0,1430.2 L1679.0,1430.6 L1683.0,1431.0 L1687.0,1431.4 L1691.0,1431.8 L1695.0,1432.2 L1699.0,1432.6 L1703.0,1433.1 L1707.0,1433.5 L1711.0,1433.9 L1715.0,1434.3 L1719.0,1434.7 L1723.0,1435.1 L1727.0,1435.5 L1731.0,1435.8 L1735.0,1436.2 L1739.0,1436.6 L1743.0,1436.9 L1747.0,1437.3 L1751.0,1437.6 L1755.0,1437.9 L1759.0,1438.2 L1763.0,1438.5 L1767.0,1438.8 L1771.0,1439.0 L1775.0,1439.3 L1779.0,1439.5 L1783.0,1439.7 L1787.0,1439.9 L1791.0,1440.1 L1795.0,1440.3 L1799.0,1440.4 L1803.0,1440.5 L1807.0,1440.6 L1811.0,1440.7 L1815.0,1440.7 L1819.0,1440.7 L1823.0,1440.7 L1827.0,1440.7 L1831.0,1440.6 L1835.0,1440.5 L1839.0,1440.4 L1843.0,1440.3 L1847.0,1440.1 L1851.0,1439.9 L1855.0,1439.6 L1859.0,1439.4 L1863.0,1439.1 L1867.0,1438.7 L1871.0,1438.3 L1875.0,1437.9 L1879.0,1437.5 L1883.0,1437.0 L1887.0,1436.5 L1891.0,1436.0 L1895.0,1435.5 L1899.0,1434.9 L1903.0,1434.3 L1907.0,1433.7 L1911.0,1433.1 L1915.0,1432.5 L1919.0,1431.8 L1923.0,1431.2 L1927.0,1430.5 L1931.0,1429.9 L1935.0,1429.2 L1939.0,1428.5 L1943.0,1427.9 L1947.0,1427.2 L1951.0,1426.6 L1955.0,1425.9 L1959.0,1425.3 L1963.0,1424.7 L1967.0,1424.1 L1971.0,1423.5 L1975.0,1422.9 L1979.0,1422.4 L1983.0,1421.8 L1987.0,1421.3 L1991.0,1420.8 L1995.0,1420.4 L1999.0,1420.0 L2003.0,1419.6 L2007.0,1419.2 L2011.0,1418.9 L2015.0,1418.7 L2019.0,1418.4 L2023.0,1418.2 L2027.0,1418.0 L2031.0,1417.9 L2035.0,1417.7 L2039.0,1417.5 L2043.0,1417.4 L2047.0,1417.2 L2051.0,1416.9 L2055.0,1416.6 L2059.0,1416.3 L2063.0,1415.9 L2067.0,1415.4 L2071.0,1414.8 L2075.0,1414.1 L2079.0,1413.4 L2083.0,1412.5 L2087.0,1411.5 L2091.0,1410.3 L2095.0,1409.0 L2099.0,1407.6 L2103.0,1406.0 L2107.0,1404.2 L2111.0,1402.2 L2115.0,1400.1 L2118.8,1397.8" stroke="#de0606" stroke-width="6" fill="none" stroke-linejoin="round"/>
</g>
<g clip-path="url(#plotclip)"><circle cx="2116.4" cy="1342.5" r="15.6" fill="none" stroke="#000" stroke-width="5.6"/></g>
<text x="311.9" y="1300.8" font-size="68">(b)</text>
<rect x="1494.5" y="1497.5" width="548.5" height="212.8" fill="#fff" stroke="#000" stroke-width="3"/>
<path d="M1502.5,1536.5 H1625.5" stroke="#00cccc" stroke-width="6" stroke-linecap="round"/>
<path d="M1502.5,1672.5 H1625.5" stroke="#de0606" stroke-width="6" stroke-linecap="round"/>
<use href="#mk" x="1563.5" y="1603.5"/>
<g font-size="54"><text x="1639.0" y="1554.3">Eulerian model</text><text x="1639.0" y="1621.6">Physical model</text><text x="1639.0" y="1689.0">Lagrangian model</text></g></g>
<g><path d="M280,2129.0 H2122 M283,2126.0 V2874.5" stroke="#000" stroke-width="6.2" fill="none"/>
<path d="M283.0,2129.0 V2100.0 M414.1,2129.0 V2100.0 M545.2,2129.0 V2100.0 M676.3,2129.0 V2100.0 M807.4,2129.0 V2100.0 M938.5,2129.0 V2100.0 M1069.6,2129.0 V2100.0 M1200.7,2129.0 V2100.0 M1331.8,2129.0 V2100.0 M1462.9,2129.0 V2100.0 M1594.0,2129.0 V2100.0 M1725.1,2129.0 V2100.0 M1856.2,2129.0 V2100.0 M1987.3,2129.0 V2100.0 M2118.4,2129.0 V2100.0 M348.6,2129.0 V2115.0 M479.6,2129.0 V2115.0 M610.8,2129.0 V2115.0 M741.8,2129.0 V2115.0 M872.9,2129.0 V2115.0 M1004.0,2129.0 V2115.0 M1135.2,2129.0 V2115.0 M1266.2,2129.0 V2115.0 M1397.3,2129.0 V2115.0 M1528.5,2129.0 V2115.0 M1659.5,2129.0 V2115.0 M1790.6,2129.0 V2115.0 M1921.8,2129.0 V2115.0 M2052.8,2129.0 V2115.0 M283,2129.0 H254 M283,2170.2 H268 M283,2211.5 H254 M283,2252.8 H268 M283,2294.0 H254 M283,2335.2 H268 M283,2376.5 H254 M283,2417.8 H268 M283,2459.0 H254 M283,2500.2 H268 M283,2541.5 H254 M283,2582.8 H268 M283,2624.0 H254 M283,2665.2 H268 M283,2706.5 H254 M283,2747.8 H268 M283,2789.0 H254 M283,2830.2 H268 M283,2871.5 H254" stroke="#000" stroke-width="6.2" fill="none"/>
<g font-size="54"><text x="283.0" y="2068.0" text-anchor="middle">0.0</text><text x="414.1" y="2068.0" text-anchor="middle">0.5</text><text x="545.2" y="2068.0" text-anchor="middle">1.0</text><text x="676.3" y="2068.0" text-anchor="middle">1.5</text><text x="807.4" y="2068.0" text-anchor="middle">2.0</text><text x="938.5" y="2068.0" text-anchor="middle">2.5</text><text x="1069.6" y="2068.0" text-anchor="middle">3.0</text><text x="1200.7" y="2068.0" text-anchor="middle">3.5</text><text x="1331.8" y="2068.0" text-anchor="middle">4.0</text><text x="1462.9" y="2068.0" text-anchor="middle">4.5</text><text x="1594.0" y="2068.0" text-anchor="middle">5.0</text><text x="1725.1" y="2068.0" text-anchor="middle">5.5</text><text x="1856.2" y="2068.0" text-anchor="middle">6.0</text><text x="1987.3" y="2068.0" text-anchor="middle">6.5</text><text x="2118.4" y="2068.0" text-anchor="middle">7.0</text><text x="234" y="2145.0" text-anchor="end">0.2</text><text x="234" y="2227.5" text-anchor="end">0.1</text><text x="234" y="2310.0" text-anchor="end">0.0</text><text x="234" y="2392.5" text-anchor="end">-0.1</text><text x="234" y="2475.0" text-anchor="end">-0.2</text><text x="234" y="2557.5" text-anchor="end">-0.3</text><text x="234" y="2640.0" text-anchor="end">-0.4</text><text x="234" y="2722.5" text-anchor="end">-0.5</text><text x="234" y="2805.0" text-anchor="end">-0.6</text><text x="234" y="2887.5" text-anchor="end">-0.7</text></g>
<text x="1109.9" y="1923.1" font-size="63">r/r<tspan font-size="43" dy="16.8">intake</tspan></text>
<g transform="translate(118.8,2556.6) rotate(-90)"><text transform="skewX(-9)" font-style="italic" font-size="64"><tspan x="-8.50" y="0">V</tspan><tspan x="35.60" y="20.0" font-size="43">r</tspan><tspan x="73.85" y="0">V</tspan><tspan x="114.60" y="14.7" font-size="43">in</tspan></text>
<text font-size="64" x="64.25" y="0">/</text></g>
<g clip-path="url(#plotclip)">
<path d="M283.0,2782.0 L287.0,2784.6 L291.0,2786.7 L295.0,2788.2 L299.0,2789.3 L303.0,2789.8 L307.0,2789.9 L311.0,2789.5 L315.0,2788.8 L319.0,2787.6 L323.0,2786.0 L327.0,2784.1 L331.0,2781.8 L335.0,2779.3 L339.0,2776.4 L343.0,2773.2 L347.0,2769.8 L351.0,2766.1 L355.0,2762.3 L359.0,2758.2 L363.0,2753.9 L367.0,2749.5 L371.0,2744.9 L375.0,2740.2 L379.0,2735.4 L383.0,2730.5 L387.0,2725.5 L391.0,2720.5 L395.0,2715.4 L399.0,2710.4 L403.0,2705.3 L407.0,2700.3 L411.0,2695.3 L415.0,2690.3 L419.0,2685.3 L423.0,2680.3 L427.0,2675.3 L431.0,2670.4 L435.0,2665.4 L439.0,2660.5 L443.0,2655.6 L447.0,2650.8 L451.0,2646.0 L455.0,2641.2 L459.0,2636.4 L463.0,2631.7 L467.0,2627.0 L471.0,2622.3 L475.0,2617.7 L479.0,2613.2 L483.0,2608.6 L487.0,2604.1 L491.0,2599.7 L495.0,2595.3 L499.0,2591.0 L503.0,2586.7 L507.0,2582.5 L511.0,2578.3 L515.0,2574.2 L519.0,2570.1 L523.0,2566.1 L527.0,2562.2 L531.0,2558.3 L535.0,2554.5 L539.0,2550.7 L543.0,2547.0 L547.0,2543.4 L551.0,2539.9 L555.0,2536.4 L559.0,2532.9 L563.0,2529.6 L567.0,2526.2 L571.0,2523.0 L575.0,2519.8 L579.0,2516.6 L583.0,2513.5 L587.0,2510.5 L591.0,2507.5 L595.0,2504.5 L599.0,2501.6 L603.0,2498.8 L607.0,2496.0 L611.0,2493.2 L615.0,2490.5 L619.0,2487.8 L623.0,2485.2 L627.0,2482.6 L631.0,2480.0 L635.0,2477.5 L639.0,2475.0 L643.0,2472.6 L647.0,2470.2 L651.0,2467.8 L655.0,2465.4 L659.0,2463.1 L663.0,2460.9 L667.0,2458.6 L671.0,2456.4 L675.0,2454.2 L679.0,2452.0 L683.0,2449.9 L687.0,2447.7 L691.0,2445.6 L695.0,2443.6 L699.0,2441.5 L703.0,2439.5 L707.0,2437.5 L711.0,2435.5 L715.0,2433.5 L719.0,2431.5 L723.0,2429.5 L727.0,2427.6 L731.0,2425.7 L735.0,2423.8 L739.0,2421.9 L743.0,2420.0 L747.0,2418.2 L751.0,2416.3 L755.0,2414.5 L759.0,2412.7 L763.0,2411.0 L767.0,2409.2 L771.0,2407.5 L775.0,2405.8 L779.0,2404.1 L783.0,2402.4 L787.0,2400.7 L791.0,2399.1 L795.0,2397.5 L799.0,2395.9 L803.0,2394.3 L807.0,2392.8 L811.0,2391.3 L815.0,2389.8 L819.0,2388.3 L823.0,2386.9 L827.0,2385.4 L831.0,2384.0 L835.0,2382.6 L839.0,2381.3 L843.0,2380.0 L847.0,2378.7 L851.0,2377.4 L855.0,2376.1 L859.0,2374.9 L863.0,2373.7 L867.0,2372.5 L871.0,2371.4 L875.0,2370.2 L879.0,2369.1 L883.0,2368.1 L887.0,2367.0 L891.0,2366.0 L895.0,2365.0 L899.0,2364.0 L903.0,2363.0 L907.0,2362.1 L911.0,2361.2 L915.0,2360.3 L919.0,2359.4 L923.0,2358.6 L927.0,2357.7 L931.0,2356.9 L935.0,2356.1 L939.0,2355.4 L943.0,2354.6 L947.0,2353.9 L951.0,2353.1 L955.0,2352.4 L959.0,2351.8 L963.0,2351.1 L967.0,2350.4 L971.0,2349.8 L975.0,2349.2 L979.0,2348.6 L983.0,2348.0 L987.0,2347.4 L991.0,2346.8 L995.0,2346.3 L999.0,2345.8 L1003.0,2345.2 L1007.0,2344.7 L1011.0,2344.2 L1015.0,2343.7 L1019.0,2343.3 L1023.0,2342.8 L1027.0,2342.3 L1031.0,2341.9 L1035.0,2341.5 L1039.0,2341.0 L1043.0,2340.6 L1047.0,2340.2 L1051.0,2339.8 L1055.0,2339.4 L1059.0,2339.0 L1063.0,2338.7 L1067.0,2338.3 L1071.0,2337.9 L1075.0,2337.6 L1079.0,2337.2 L1083.0,2336.9 L1087.0,2336.5 L1091.0,2336.2 L1095.0,2335.8 L1099.0,2335.5 L1103.0,2335.2 L1107.0,2334.9 L1111.0,2334.5 L1115.0,2334.2 L1119.0,2333.9 L1123.0,2333.6 L1127.0,2333.3 L1131.0,2333.0 L1135.0,2332.7 L1139.0,2332.4 L1143.0,2332.1 L1147.0,2331.8 L1151.0,2331.5 L1155.0,2331.2 L1159.0,2331.0 L1163.0,2330.7 L1167.0,2330.4 L1171.0,2330.2 L1175.0,2329.9 L1179.0,2329.6 L1183.0,2329.4 L1187.0,2329.1 L1191.0,2328.9 L1195.0,2328.7 L1199.0,2328.4 L1203.0,2328.2 L1207.0,2328.0 L1211.0,2327.7 L1215.0,2327.5 L1219.0,2327.3 L1223.0,2327.1 L1227.0,2326.9 L1231.0,2326.7 L1235.0,2326.5 L1239.0,2326.3 L1243.0,2326.1 L1247.0,2325.9 L1251.0,2325.7 L1255.0,2325.5 L1259.0,2325.4 L1263.0,2325.2 L1267.0,2325.0 L1271.0,2324.9 L1275.0,2324.7 L1279.0,2324.6 L1283.0,2324.4 L1287.0,2324.3 L1291.0,2324.1 L1295.0,2324.0 L1299.0,2323.9 L1303.0,2323.8 L1307.0,2323.6 L1311.0,2323.5 L1315.0,2323.4 L1319.0,2323.3 L1323.0,2323.2 L1327.0,2323.1 L1331.0,2323.0 L1335.0,2322.9 L1339.0,2322.9 L1343.0,2322.8 L1347.0,2322.7 L1351.0,2322.7 L1355.0,2322.6 L1359.0,2322.5 L1363.0,2322.5 L1367.0,2322.4 L1371.0,2322.4 L1375.0,2322.4 L1379.0,2322.3 L1383.0,2322.3 L1387.0,2322.3 L1391.0,2322.3 L1395.0,2322.3 L1399.0,2322.3 L1403.0,2322.3 L1407.0,2322.3 L1411.0,2322.3 L1415.0,2322.3 L1419.0,2322.3 L1423.0,2322.4 L1427.0,2322.4 L1431.0,2322.4 L1435.0,2322.5 L1439.0,2322.5 L1443.0,2322.6 L1447.0,2322.6 L1451.0,2322.7 L1455.0,2322.8 L1459.0,2322.9 L1463.0,2322.9 L1467.0,2323.0 L1471.0,2323.1 L1475.0,2323.2 L1479.0,2323.3 L1483.0,2323.4 L1487.0,2323.5 L1491.0,2323.7 L1495.0,2323.8 L1499.0,2323.9 L1503.0,2324.0 L1507.0,2324.2 L1511.0,2324.3 L1515.0,2324.5 L1519.0,2324.6 L1523.0,2324.8 L1527.0,2324.9 L1531.0,2325.1 L1535.0,2325.3 L1539.0,2325.4 L1543.0,2325.6 L1547.0,2325.8 L1551.0,2326.0 L1555.0,2326.2 L1559.0,2326.4 L1563.0,2326.6 L1567.0,2326.7 L1571.0,2326.9 L1575.0,2327.1 L1579.0,2327.4 L1583.0,2327.6 L1587.0,2327.8 L1591.0,2328.0 L1595.0,2328.2 L1599.0,2328.4 L1603.0,2328.6 L1607.0,2328.9 L1611.0,2329.1 L1615.0,2329.3 L1619.0,2329.6 L1623.0,2329.8 L1627.0,2330.0 L1631.0,2330.3 L1635.0,2330.5 L1639.0,2330.7 L1643.0,2331.0 L1647.0,2331.2 L1651.0,2331.5 L1655.0,2331.7 L1659.0,2332.0 L1663.0,2332.2 L1667.0,2332.5 L1671.0,2332.7 L1675.0,2333.0 L1679.0,2333.2 L1683.0,2333.5 L1687.0,2333.7 L1691.0,2334.0 L1695.0,2334.2 L1699.0,2334.5 L1703.0,2334.8 L1707.0,2335.0 L1711.0,2335.3 L1715.0,2335.5 L1719.0,2335.8 L1723.0,2336.0 L1727.0,2336.3 L1731.0,2336.6 L1735.0,2336.8 L1739.0,2337.1 L1743.0,2337.3 L1747.0,2337.6 L1751.0,2337.8 L1755.0,2338.1 L1759.0,2338.3 L1763.0,2338.6 L1767.0,2338.8 L1771.0,2339.1 L1775.0,2339.3 L1779.0,2339.6 L1783.0,2339.8 L1787.0,2340.1 L1791.0,2340.3 L1795.0,2340.5 L1799.0,2340.8 L1803.0,2341.0 L1807.0,2341.3 L1811.0,2341.5 L1815.0,2341.7 L1819.0,2341.9 L1823.0,2342.2 L1827.0,2342.4 L1831.0,2342.6 L1835.0,2342.8 L1839.0,2343.0 L1843.0,2343.3 L1847.0,2343.5 L1851.0,2343.7 L1855.0,2343.9 L1859.0,2344.1 L1863.0,2344.3 L1867.0,2344.5 L1871.0,2344.7 L1875.0,2344.9 L1879.0,2345.0 L1883.0,2345.2 L1887.0,2345.4 L1891.0,2345.6 L1895.0,2345.7 L1899.0,2345.9 L1903.0,2346.1 L1907.0,2346.2 L1911.0,2346.4 L1915.0,2346.6 L1919.0,2346.7 L1923.0,2346.9 L1927.0,2347.1 L1931.0,2347.3 L1935.0,2347.5 L1939.0,2347.7 L1943.0,2347.9 L1947.0,2348.2 L1951.0,2348.4 L1955.0,2348.7 L1959.0,2349.0 L1963.0,2349.3 L1967.0,2349.7 L1971.0,2350.1 L1975.0,2350.5 L1979.0,2350.9 L1983.0,2351.4 L1987.0,2351.9 L1991.0,2352.4 L1995.0,2353.0 L1999.0,2353.6 L2003.0,2354.2 L2007.0,2354.9 L2011.0,2355.7 L2015.0,2356.5 L2019.0,2357.3 L2023.0,2358.2 L2027.0,2359.1 L2031.0,2360.1 L2035.0,2361.1 L2039.0,2362.2 L2043.0,2363.4 L2047.0,2364.6 L2051.0,2365.9 L2055.0,2367.2 L2059.0,2368.6 L2063.0,2370.1 L2067.0,2371.7 L2071.0,2373.3 L2075.0,2374.9 L2079.0,2376.7 L2083.0,2378.5 L2087.0,2380.4 L2091.0,2382.4 L2095.0,2384.5 L2099.0,2386.7 L2103.0,2388.9 L2107.0,2391.2 L2111.0,2393.6 L2115.0,2396.1 L2118.8,2398.6" stroke="#00cccc" stroke-width="6" fill="none" stroke-linejoin="round"/>
<use href="#mk" x="783.0" y="2295.6"/>
<use href="#mk" x="845.8" y="2302.4"/>
<use href="#mk" x="908.3" y="2303.6"/>
<use href="#mk" x="971.2" y="2279.3"/>
<use href="#mk" x="1033.4" y="2313.4"/>
<use href="#mk" x="1096.5" y="2314.0"/>
<use href="#mk" x="1158.5" y="2322.3"/>
<use href="#mk" x="1221.6" y="2323.7"/>
<use href="#mk" x="1283.7" y="2338.0"/>
<use href="#mk" x="1346.9" y="2354.0"/>
<use href="#mk" x="1409.1" y="2362.3"/>
<use href="#mk" x="1471.9" y="2371.7"/>
<use href="#mk" x="1534.2" y="2360.8"/>
<use href="#mk" x="1596.4" y="2342.1"/>
<use href="#mk" x="1659.5" y="2328.8"/>
<use href="#mk" x="1721.6" y="2306.0"/>
<use href="#mk" x="1784.5" y="2292.6"/>
<use href="#mk" x="1847.3" y="2275.7"/>
<use href="#mk" x="1909.9" y="2260.0"/>
<use href="#mk" x="1972.7" y="2276.3"/>
<use href="#mk" x="2034.9" y="2272.8"/>
<use href="#mk" x="2097.8" y="2292.0"/>
<path d="M283.0,2707.0 L287.0,2706.8 L291.0,2706.7 L295.0,2706.5 L299.0,2706.3 L303.0,2706.2 L307.0,2705.9 L311.0,2705.7 L315.0,2705.4 L319.0,2705.1 L323.0,2704.8 L327.0,2704.4 L331.0,2704.0 L335.0,2703.5 L339.0,2702.9 L343.0,2702.2 L347.0,2701.5 L351.0,2700.7 L355.0,2699.8 L359.0,2698.8 L363.0,2697.7 L367.0,2696.5 L371.0,2695.2 L375.0,2693.8 L379.0,2692.2 L383.0,2690.5 L387.0,2688.7 L391.0,2686.7 L395.0,2684.6 L399.0,2682.4 L403.0,2679.9 L407.0,2677.4 L411.0,2674.6 L415.0,2671.7 L419.0,2668.7 L423.0,2665.5 L427.0,2662.1 L431.0,2658.5 L435.0,2654.9 L439.0,2651.0 L443.0,2647.0 L447.0,2642.9 L451.0,2638.5 L455.0,2634.1 L459.0,2629.6 L463.0,2625.0 L467.0,2620.3 L471.0,2615.6 L475.0,2610.9 L479.0,2606.2 L483.0,2601.6 L487.0,2597.0 L491.0,2592.5 L495.0,2588.1 L499.0,2583.8 L503.0,2579.6 L507.0,2575.4 L511.0,2571.4 L515.0,2567.4 L519.0,2563.6 L523.0,2559.8 L527.0,2556.1 L531.0,2552.6 L535.0,2549.1 L539.0,2545.8 L543.0,2542.6 L547.0,2539.4 L551.0,2536.5 L555.0,2533.6 L559.0,2530.8 L563.0,2528.2 L567.0,2525.7 L571.0,2523.4 L575.0,2521.1 L579.0,2519.0 L583.0,2517.1 L587.0,2515.3 L591.0,2513.6 L595.0,2512.0 L599.0,2510.5 L603.0,2509.2 L607.0,2507.9 L611.0,2506.7 L615.0,2505.6 L619.0,2504.6 L623.0,2503.7 L627.0,2502.8 L631.0,2501.9 L635.0,2501.1 L639.0,2500.3 L643.0,2499.6 L647.0,2498.9 L651.0,2498.2 L655.0,2497.5 L659.0,2496.8 L663.0,2496.2 L667.0,2495.5 L671.0,2494.7 L675.0,2494.0 L679.0,2493.2 L683.0,2492.4 L687.0,2491.5 L691.0,2490.6 L695.0,2489.6 L699.0,2488.5 L703.0,2487.4 L707.0,2486.3 L711.0,2485.1 L715.0,2483.8 L719.0,2482.6 L723.0,2481.2 L727.0,2479.8 L731.0,2478.4 L735.0,2477.0 L739.0,2475.5 L743.0,2473.9 L747.0,2472.4 L751.0,2470.8 L755.0,2469.1 L759.0,2467.5 L763.0,2465.8 L767.0,2464.1 L771.0,2462.3 L775.0,2460.5 L779.0,2458.7 L783.0,2456.9 L787.0,2455.1 L791.0,2453.2 L795.0,2451.4 L799.0,2449.5 L803.0,2447.6 L807.0,2445.7 L811.0,2443.8 L815.0,2441.8 L819.0,2439.9 L823.0,2438.0 L827.0,2436.0 L831.0,2434.1 L835.0,2432.2 L839.0,2430.2 L843.0,2428.3 L847.0,2426.3 L851.0,2424.4 L855.0,2422.5 L859.0,2420.6 L863.0,2418.7 L867.0,2416.8 L871.0,2414.9 L875.0,2413.1 L879.0,2411.2 L883.0,2409.4 L887.0,2407.6 L891.0,2405.8 L895.0,2404.1 L899.0,2402.3 L903.0,2400.6 L907.0,2399.0 L911.0,2397.3 L915.0,2395.7 L919.0,2394.1 L923.0,2392.6 L927.0,2391.1 L931.0,2389.5 L935.0,2388.0 L939.0,2386.6 L943.0,2385.1 L947.0,2383.5 L951.0,2382.0 L955.0,2380.5 L959.0,2378.9 L963.0,2377.3 L967.0,2375.6 L971.0,2373.9 L975.0,2372.1 L979.0,2370.2 L983.0,2368.3 L987.0,2366.3 L991.0,2364.2 L995.0,2362.0 L999.0,2359.6 L1003.0,2357.2 L1007.0,2354.7 L1011.0,2352.0 L1015.0,2349.2 L1019.0,2346.3 L1023.0,2343.2 L1027.0,2340.0 L1031.0,2336.8 L1035.0,2333.5 L1039.0,2330.2 L1043.0,2327.0 L1047.0,2323.9 L1051.0,2320.8 L1055.0,2318.0 L1059.0,2315.4 L1063.0,2313.0 L1067.0,2310.8 L1071.0,2308.9 L1075.0,2307.3 L1079.0,2305.8 L1083.0,2304.7 L1087.0,2303.7 L1091.0,2303.0 L1095.0,2302.5 L1099.0,2302.2 L1103.0,2302.2 L1107.0,2302.4 L1111.0,2302.7 L1115.0,2303.3 L1119.0,2304.0 L1123.0,2304.9 L1127.0,2305.9 L1131.0,2306.9 L1135.0,2308.1 L1139.0,2309.3 L1143.0,2310.6 L1147.0,2311.8 L1151.0,2313.1 L1155.0,2314.3 L1159.0,2315.5 L1163.0,2316.6 L1167.0,2317.7 L1171.0,2318.6 L1175.0,2319.4 L1179.0,2320.0 L1183.0,2320.5 L1187.0,2320.8 L1191.0,2321.0 L1195.0,2321.0 L1199.0,2320.9 L1203.0,2320.8 L1207.0,2320.5 L1211.0,2320.1 L1215.0,2319.7 L1219.0,2319.3 L1223.0,2318.8 L1227.0,2318.2 L1231.0,2317.7 L1235.0,2317.1 L1239.0,2316.6 L1243.0,2316.1 L1247.0,2315.6 L1251.0,2315.2 L1255.0,2314.9 L1259.0,2314.7 L1263.0,2314.6 L1267.0,2314.6 L1271.0,2314.7 L1275.0,2315.0 L1279.0,2315.5 L1283.0,2316.1 L1287.0,2316.9 L1291.0,2317.9 L1295.0,2318.9 L1299.0,2320.2 L1303.0,2321.5 L1307.0,2322.9 L1311.0,2324.3 L1315.0,2325.8 L1319.0,2327.4 L1323.0,2328.9 L1327.0,2330.5 L1331.0,2332.0 L1335.0,2333.5 L1339.0,2335.0 L1343.0,2336.3 L1347.0,2337.7 L1351.0,2338.9 L1355.0,2340.1 L1359.0,2341.2 L1363.0,2342.2 L1367.0,2343.2 L1371.0,2344.1 L1375.0,2344.9 L1379.0,2345.7 L1383.0,2346.4 L1387.0,2347.0 L1391.0,2347.6 L1395.0,2348.1 L1399.0,2348.5 L1403.0,2348.9 L1407.0,2349.2 L1411.0,2349.4 L1415.0,2349.5 L1419.0,2349.6 L1423.0,2349.6 L1427.0,2349.6 L1431.0,2349.4 L1435.0,2349.2 L1439.0,2349.0 L1443.0,2348.6 L1447.0,2348.2 L1451.0,2347.8 L1455.0,2347.2 L1459.0,2346.6 L1463.0,2345.9 L1467.0,2345.2 L1471.0,2344.4 L1475.0,2343.5 L1479.0,2342.6 L1483.0,2341.7 L1487.0,2340.7 L1491.0,2339.7 L1495.0,2338.7 L1499.0,2337.6 L1503.0,2336.5 L1507.0,2335.4 L1511.0,2334.3 L1515.0,2333.2 L1519.0,2332.1 L1523.0,2331.0 L1527.0,2330.0 L1531.0,2328.9 L1535.0,2327.9 L1539.0,2326.8 L1543.0,2325.9 L1547.0,2324.9 L1551.0,2324.0 L1555.0,2323.2 L1559.0,2322.4 L1563.0,2321.6 L1567.0,2320.9 L1571.0,2320.3 L1575.0,2319.8 L1579.0,2319.3 L1583.0,2318.9 L1587.0,2318.6 L1591.0,2318.3 L1595.0,2318.2 L1599.0,2318.0 L1603.0,2318.0 L1607.0,2318.0 L1611.0,2318.0 L1615.0,2318.2 L1619.0,2318.3 L1623.0,2318.5 L1627.0,2318.8 L1631.0,2319.1 L1635.0,2319.4 L1639.0,2319.8 L1643.0,2320.2 L1647.0,2320.6 L1651.0,2321.1 L1655.0,2321.6 L1659.0,2322.1 L1663.0,2322.6 L1667.0,2323.2 L1671.0,2323.8 L1675.0,2324.3 L1679.0,2324.9 L1683.0,2325.5 L1687.0,2326.1 L1691.0,2326.7 L1695.0,2327.2 L1699.0,2327.8 L1703.0,2328.3 L1707.0,2328.9 L1711.0,2329.4 L1715.0,2329.9 L1719.0,2330.3 L1723.0,2330.7 L1727.0,2331.1 L1731.0,2331.5 L1735.0,2331.8 L1739.0,2332.0 L1743.0,2332.3 L1747.0,2332.4 L1751.0,2332.5 L1755.0,2332.5 L1759.0,2332.5 L1763.0,2332.4 L1767.0,2332.3 L1771.0,2332.0 L1775.0,2331.7 L1779.0,2331.3 L1783.0,2330.8 L1787.0,2330.3 L1791.0,2329.6 L1795.0,2328.9 L1799.0,2328.2 L1803.0,2327.3 L1807.0,2326.5 L1811.0,2325.6 L1815.0,2324.6 L1819.0,2323.6 L1823.0,2322.6 L1827.0,2321.6 L1831.0,2320.5 L1835.0,2319.4 L1839.0,2318.4 L1843.0,2317.3 L1847.0,2316.2 L1851.0,2315.1 L1855.0,2314.1 L1859.0,2313.1 L1863.0,2312.1 L1867.0,2311.1 L1871.0,2310.2 L1875.0,2309.3 L1879.0,2308.5 L1883.0,2307.7 L1887.0,2307.0 L1891.0,2306.4 L1895.0,2305.8 L1899.0,2305.3 L1903.0,2304.9 L1907.0,2304.6 L1911.0,2304.3 L1915.0,2304.1 L1919.0,2304.0 L1923.0,2303.9 L1927.0,2303.9 L1931.0,2304.0 L1935.0,2304.0 L1939.0,2304.2 L1943.0,2304.4 L1947.0,2304.6 L1951.0,2304.9 L1955.0,2305.1 L1959.0,2305.5 L1963.0,2305.8 L1967.0,2306.2 L1971.0,2306.6 L1975.0,2307.0 L1979.0,2307.4 L1983.0,2307.8 L1987.0,2308.2 L1991.0,2308.7 L1995.0,2309.1 L1999.0,2309.5 L2003.0,2309.9 L2007.0,2310.3 L2011.0,2310.7 L2015.0,2311.0 L2019.0,2311.3 L2023.0,2311.6 L2027.0,2311.9 L2031.0,2312.1 L2035.0,2312.3 L2039.0,2312.5 L2043.0,2312.6 L2047.0,2312.6 L2051.0,2312.6 L2055.0,2312.6 L2059.0,2312.4 L2063.0,2312.2 L2067.0,2312.0 L2071.0,2311.7 L2075.0,2311.3 L2079.0,2310.8 L2083.0,2310.2 L2087.0,2309.6 L2091.0,2308.8 L2095.0,2308.0 L2099.0,2307.1 L2103.0,2306.1 L2107.0,2304.9 L2111.0,2303.7 L2115.0,2302.3 L2118.8,2300.9" stroke="#de0606" stroke-width="6" fill="none" stroke-linejoin="round"/>
</g>
<text x="313.9" y="2226.9" font-size="68">(c)</text>
<rect x="1521.7" y="2476.4" width="548.5" height="212.8" fill="#fff" stroke="#000" stroke-width="3"/>
<path d="M1529.7,2515.4 H1652.7" stroke="#00cccc" stroke-width="6" stroke-linecap="round"/>
<path d="M1529.7,2651.4 H1652.7" stroke="#de0606" stroke-width="6" stroke-linecap="round"/>
<use href="#mk" x="1590.7" y="2582.4"/>
<g font-size="54"><text x="1666.2" y="2533.2">Eulerian model</text><text x="1666.2" y="2600.5">Physical model</text><text x="1666.2" y="2667.9">Lagrangian model</text></g></g>
</svg></body></html>
